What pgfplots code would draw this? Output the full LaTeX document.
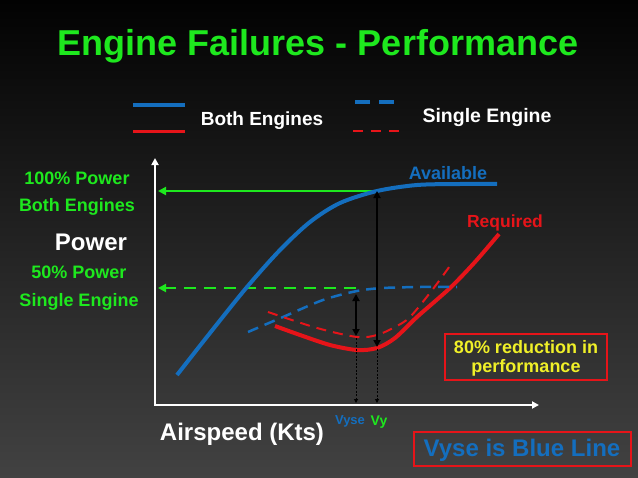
\documentclass[border=0pt]{standalone}
\usepackage{pgfplots}
\pgfplotsset{compat=1.18}
\usepackage{fontspec}
\setmainfont{Liberation Sans}
\usetikzlibrary{arrows.meta}
\definecolor{cgreen}{RGB}{30,232,30}
\definecolor{cblue}{RGB}{20,110,190}
\definecolor{cred}{RGB}{230,20,25}
\definecolor{cyel}{RGB}{240,240,40}
\definecolor{bgtop}{RGB}{2,2,2}
\definecolor{bgbot}{RGB}{66,66,66}
\begin{document}
\begin{tikzpicture}
\fill[top color=bgtop, bottom color=bgbot] (0,0) rectangle (638bp,478bp);
\begin{axis}[
  scale only axis, width=638bp, height=478bp,
  xmin=0, xmax=638, ymin=0, ymax=478, y dir=reverse,
  hide axis, clip=false,
]
% axes
\addplot[white, line width=2.5bp, {Triangle[length=7bp,width=7bp]}-{Triangle[length=7bp,width=7bp]}] coordinates {(155,158) (155,405) (539,405)};
% legend lines
\addplot[cblue, line width=4bp] coordinates {(133,105) (185,105)};
\addplot[cred, line width=3bp] coordinates {(133,131) (185,131)};
\addplot[cblue, line width=3.5bp, dash pattern=on 15bp off 9bp] coordinates {(355,102) (400,102)};
\addplot[cred, line width=2.5bp, dash pattern=on 10bp off 8bp] coordinates {(353,131) (400,131)};
% green reference lines
\addplot[cgreen, line width=2.5bp, -{Triangle[length=8bp,width=8bp]}] coordinates {(377,191) (158,191)};
\addplot[cgreen, line width=2.5bp, dash pattern=on 12bp off 8bp, -{Triangle[length=8bp,width=8bp]}] coordinates {(356,288) (158,288)};
% curves
\addplot[cblue, line width=4bp, smooth] coordinates {(177,375) (210,333) (247,287) (280,250) (310,222) (340,203) (377,191) (417,185) (460,184) (497,184)};
\addplot[cred, line width=4bp, smooth] coordinates {(275,326) (300,335) (330,345) (357,350) (377,348) (395,338) (417,317) (450,288) (475,262) (499,234)};
\addplot[cblue, line width=2.5bp, smooth, dash pattern=on 11bp off 7bp] coordinates {(248,332) (283,317) (323,300) (357,291) (383,288) (420,287) (457,287)};
\addplot[cred, line width=2bp, smooth, dash pattern=on 10bp off 7bp] coordinates {(268,312) (317,328) (357,337) (377,335) (395,327) (410,317) (433,289) (452,263)};
% black arrows
\addplot[black, line width=2bp, {Triangle[length=7bp,width=7bp]}-{Triangle[length=7bp,width=7bp]}] coordinates {(377,191) (377,347)};
\addplot[black, line width=2bp, {Triangle[length=7bp,width=7bp]}-{Triangle[length=7bp,width=7bp]}] coordinates {(356,294) (356,336)};
\addplot[black, line width=1bp, dash pattern=on 2bp off 1.5bp, -{Triangle[length=4bp,width=4bp]}] coordinates {(356,338) (356,403)};
\addplot[black, line width=1bp, dash pattern=on 2bp off 1.5bp, -{Triangle[length=4bp,width=4bp]}] coordinates {(377,349) (377,403)};
% title
\node[cgreen, font=\bfseries\fontsize{36bp}{42bp}\selectfont] at (axis cs:318,46) {Engine Failures - Performance};
\node[white, font=\bfseries\fontsize{19bp}{22bp}\selectfont] at (axis cs:262,121) {Both Engines};
\node[white, font=\bfseries\fontsize{19.5bp}{22bp}\selectfont] at (axis cs:487,118) {Single Engine};
% left labels
\node[cgreen, font=\bfseries\fontsize{18bp}{21bp}\selectfont] at (axis cs:77,178) {100\% Power};
\node[cgreen, font=\bfseries\fontsize{18bp}{21bp}\selectfont] at (axis cs:77,207) {Both Engines};
\node[white, font=\bfseries\fontsize{24bp}{28bp}\selectfont] at (axis cs:91,242) {Power};
\node[cgreen, font=\bfseries\fontsize{18bp}{21bp}\selectfont] at (axis cs:79,272) {50\% Power};
\node[cgreen, font=\bfseries\fontsize{18bp}{21bp}\selectfont] at (axis cs:79,302) {Single Engine};
% curve labels
\node[cblue, font=\bfseries\fontsize{18bp}{21bp}\selectfont] at (axis cs:448,173) {Available};
\node[cred, font=\bfseries\fontsize{17.5bp}{20bp}\selectfont] at (axis cs:505,223) {Required};
\node[cblue, font=\bfseries\fontsize{13bp}{15bp}\selectfont] at (axis cs:350,421) {Vyse};
\node[cgreen, font=\bfseries\fontsize{14bp}{16bp}\selectfont] at (axis cs:379,422) {Vy};
\node[white, font=\bfseries\fontsize{24bp}{28bp}\selectfont] at (axis cs:242,434) {Airspeed (Kts)};
% boxes
\draw[cred, line width=2bp] (axis cs:445,334) rectangle (axis cs:607,380);
\node[cyel, font=\bfseries\fontsize{18bp}{19bp}\selectfont, align=center] at (axis cs:526,358) {80\% reduction in\\performance};
\draw[cred, line width=2bp] (axis cs:414,432) rectangle (axis cs:631,466);
\node[cblue, font=\bfseries\fontsize{24bp}{28bp}\selectfont] at (axis cs:522,450) {Vyse is Blue Line};
\end{axis}
\end{tikzpicture}
\end{document}
